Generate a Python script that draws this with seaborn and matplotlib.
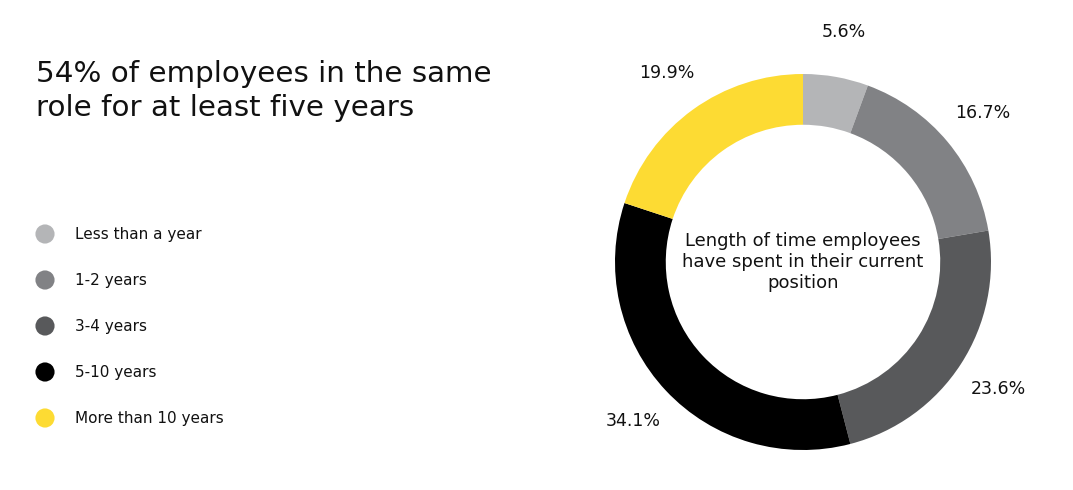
"""
Donut chart: length of time employees have spent in their current position.
"""

import numpy as np
import matplotlib.pyplot as plt
import seaborn as sns

categories = ["Less than a year", "1-2 years", "3-4 years", "5-10 years", "More than 10 years"]
shares = [5.6, 16.7, 23.6, 34.1, 19.9]
colors = ["#b4b5b7", "#818285", "#58595b", "#000000", "#fddb33"]

title = "54% of employees in the same\nrole for at least five years"
center_text = "Length of time employees\nhave spent in their current\nposition"

sns.set_theme(style="white")
plt.rcParams["font.family"] = ["DejaVu Sans"]

W, H = 1073, 490
fig = plt.figure(figsize=(W / 100, H / 100), dpi=100)
fig.patch.set_facecolor("white")

# donut axes, centred at (803, 262) px with outer radius 188 px
cx, cy, r = 803, 262, 188
ax = fig.add_axes([(cx - r) / W, (H - cy - r) / H, 2 * r / W, 2 * r / H])
wedges, _, autotexts = ax.pie(
    shares, colors=colors, startangle=90, counterclock=False,
    radius=1, autopct=lambda p: f"{p:.1f}%", pctdistance=1.24,
    wedgeprops=dict(width=0.27, linewidth=0),
    textprops=dict(fontsize=12.5, color="#111111"),
)
ax.set_xlim(-1, 1)
ax.set_ylim(-1, 1)
ax.set_aspect("equal")
ax.axis("off")
ax.text(0, 0, center_text, ha="center", va="center", fontsize=13,
        color="#111111", linespacing=1.2)

# title
fig.text(36 / W, 1 - 60 / H, title, ha="left", va="top", fontsize=21.2,
         color="#111111", linespacing=1.25)

# legend drawn on its own axes
lax = fig.add_axes([0, (H - 441) / H, 300 / W, 230 / H])
y = np.arange(len(categories))[::-1]
lax.scatter(np.full(len(categories), 45), y, s=190, c=colors, linewidths=0)
for yi, lab in zip(y, categories):
    lax.text(75, yi, lab, ha="left", va="center", fontsize=11, color="#111111")
lax.set_xlim(0, 300)
lax.set_ylim(-0.5, 4.5)
lax.axis("off")

plt.savefig("out.png", dpi=100)
plt.close()
print("[Saved] out.png")
